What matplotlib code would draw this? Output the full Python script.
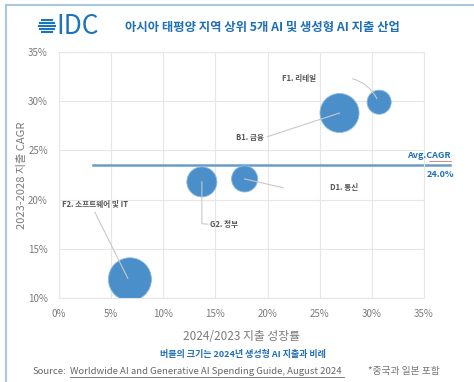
import matplotlib
matplotlib.use('Agg')
import matplotlib.pyplot as plt
from matplotlib.patches import Rectangle
import numpy as np

plt.rcParams['font.family'] = ['Noto Sans CJK KR', 'DejaVu Sans']

# 데이터
industries = ['F1. 리테일', 'B1. 금융', 'D1. 통신', 'G2. 정부', 'F2. 소프트웨어 및 IT']
growth_2024 = [30.7, 26.9, 17.8, 13.7, 6.8]      # 2024/2023 지출 성장률 (%)
cagr_2028 = [29.9, 28.8, 22.1, 21.8, 11.9]       # 2023-2028 지출 CAGR (%)
genai_spend = [5.8, 15.2, 6.8, 9.0, 18.5]        # 2024 생성형 AI 지출 (상대값)
avg_cagr = 23.5
avg_label = '24.0%'
x_ticks = [0, 5, 10, 15, 20, 25, 30, 35]
y_ticks = [10, 15, 20, 25, 30, 35]

blue = '#4a8fca'
title_blue = '#1f6fb5'
grey_txt = '#7a7a7a'

fig = plt.figure(figsize=(4.74, 3.82), dpi=100)
fig.patch.set_facecolor('white')

# 바깥 테두리
fig.patches.append(Rectangle((6 / 474, -0.05), 1.2, 1 - 5 / 382 + 0.05, transform=fig.transFigure,
                             fill=False, edgecolor='#a9c8e0', linewidth=1.5))

ax = fig.add_axes([59 / 474, 1 - 298 / 382, 365 / 474, 246 / 382])
ax.set_xlim(0, 35)
ax.set_ylim(10, 35)
ax.set_xticks(x_ticks)
ax.set_yticks(y_ticks)
ax.set_xticklabels([f'{t}%' for t in x_ticks], fontsize=7, color=grey_txt)
ax.set_yticklabels([f'{t}%' for t in y_ticks], fontsize=7, color=grey_txt)
ax.tick_params(length=0, pad=8)
ax.grid(True, color='#e6e6e6', linewidth=0.8)
ax.set_axisbelow(True)
for s in ax.spines.values():
    s.set_color('#e6e6e6')
    s.set_linewidth(0.8)

sizes = np.array(genai_spend) * 52
ax.scatter(growth_2024, cagr_2028, s=sizes, color=blue, edgecolor='#8dbbe0', linewidth=0.6, zorder=3)

# 평균선
ax.plot([3.3, 37.5], [avg_cagr, avg_cagr], color='#6a9cc7', linewidth=1.8, clip_on=False, zorder=2)
ax.text(37.6, avg_cagr + 0.5, 'Avg.CAGR', fontsize=6.5, color=title_blue, fontweight='bold',
        ha='right', va='bottom', clip_on=False)
ax.plot([35.5, 37.6], [avg_cagr + 0.45, avg_cagr + 0.45], color='#d9534f', linewidth=0.5, clip_on=False)
ax.text(36.6, avg_cagr - 0.5, avg_label, fontsize=6.5, color=title_blue, fontweight='bold',
        ha='center', va='top', clip_on=False)

# 라벨과 지시선
lab_kw = dict(fontsize=5.5, color='#555555', fontweight='bold', va='center', zorder=5)
line_kw = dict(color='#c8c8c8', linewidth=0.8, zorder=4)

ax.text(21.4, 32.3, industries[0], **lab_kw)
ax.annotate('', xy=(growth_2024[0] - 0.1, cagr_2028[0] + 0.1), xytext=(27.9, 32.35),
            arrowprops=dict(arrowstyle='-', connectionstyle='arc3,rad=-0.25', **line_kw))

ax.text(17.0, 26.3, industries[1], **lab_kw)
ax.plot([20.0, growth_2024[1]], [26.4, cagr_2028[1]], **line_kw)

ax.text(26.0, 21.2, industries[2], **lab_kw)
ax.plot([growth_2024[2], 21.5], [cagr_2028[2], 21.2], **line_kw)

ax.text(14.5, 17.5, industries[3], **lab_kw)
ax.plot([growth_2024[3], growth_2024[3], 14.3], [cagr_2028[3], 17.55, 17.5], **line_kw)

ax.text(0.3, 19.55, industries[4], **lab_kw)
ax.plot([3.45, growth_2024[4] - 0.2], [18.7, cagr_2028[4] + 0.1], **line_kw)

ax.set_ylabel('2023-2028 지출 CAGR', fontsize=8, color=grey_txt, labelpad=1)
ax.set_xlabel('2024/2023 지출 성장률', fontsize=8.5, color=grey_txt, labelpad=8)

# 제목과 로고
fig.text(125 / 474, 1 - 27 / 382, '아시아 태평양 지역 상위 5개 AI 및 생성형 AI 지출 산업', fontsize=8.9,
         color=title_blue, fontweight='bold', va='center')
fig.text(56 / 474, 1 - 26 / 382, 'IDC', fontsize=19, color='#1b75bc', va='center')
for dy in [-6, -3, 0, 3, 6]:
    half = np.sqrt(max(64 - dy ** 2, 9))
    fig.add_artist(plt.Line2D([(47 - half) / 474, (47 + half) / 474],
                              [1 - (26 + dy) / 382] * 2, color='#1b75bc', linewidth=1.5,
                              transform=fig.transFigure))

# 하단 텍스트
fig.text(243 / 474, 1 - 354 / 382, '버블의 크기는 2024년 생성형 AI 지출과 비례', fontsize=6.5,
         color=title_blue, fontweight='bold', ha='center', va='center')
fig.text(33 / 474, 1 - 371 / 382, 'Source:', fontsize=6.9, color='#666666', va='center')
fig.text(70 / 474, 1 - 371 / 382, 'Worldwide AI and Generative AI Spending Guide, August 2024',
         fontsize=6.9, color='#666666', va='center')
fig.add_artist(plt.Line2D([70 / 474, 344 / 474], [1 - 376.5 / 382] * 2, color='#666666',
                          linewidth=0.6, transform=fig.transFigure))
fig.text(368 / 474, 1 - 371 / 382, '*중국과 일본 포함', fontsize=7, color='#777777', va='center')

fig.savefig('out.png', dpi=100)
